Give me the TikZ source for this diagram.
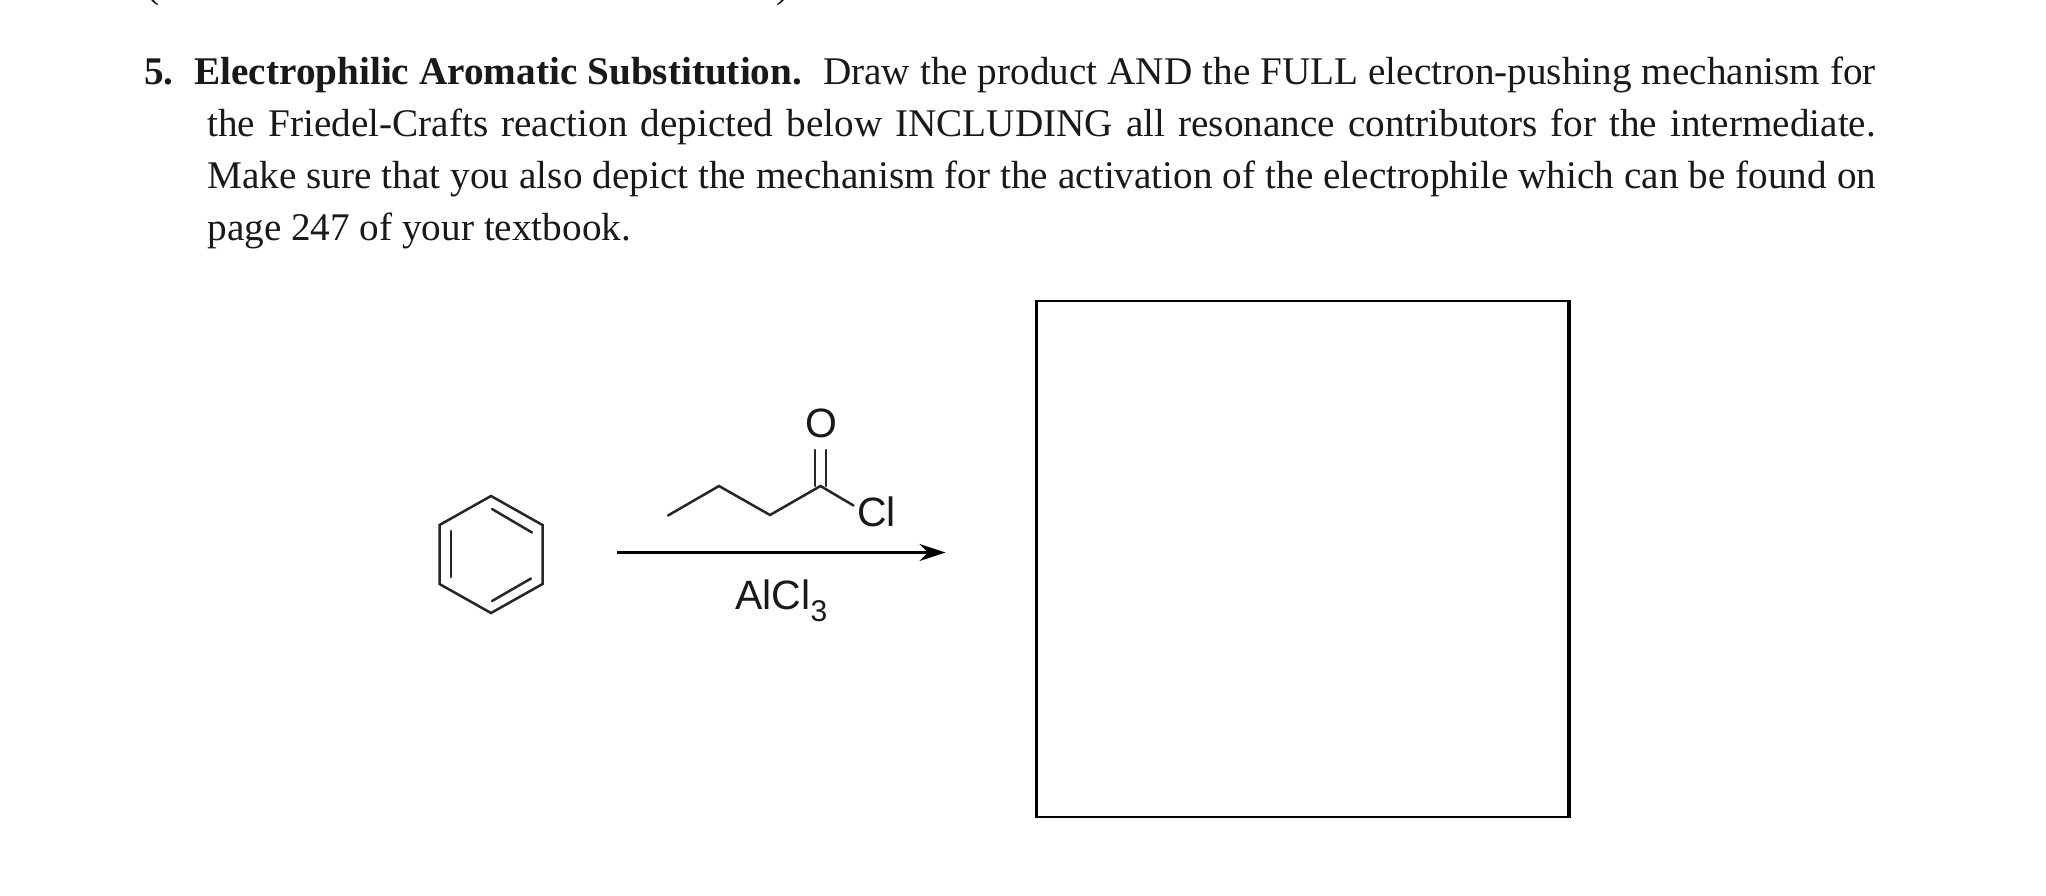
\documentclass[tikz,border=0pt]{standalone}
\usepackage{fontspec}
\setmainfont{Liberation Serif}
\newfontfamily\chemfont{Liberation Sans}
\usetikzlibrary{arrows.meta}
\hbadness=10000 \hfuzz=50pt
\tikzset{
  body/.style={inner sep=0pt,outer sep=0pt,anchor=base west,font=\fontsize{39.2}{47}\selectfont,text=black!90},
  atom/.style={inner sep=0pt,outer sep=0pt,font=\chemfont\fontsize{41}{48}\selectfont,text=black!90},
  bond/.style={line width=2.5pt,black!85,line cap=round,line join=miter},
  rxn/.style={line width=2.4pt,black,-{Stealth[length=26pt,width=17pt]}},
  answer/.style={line width=2.4pt,black}
}
\newcommand{\jline}[1]{\hbox to 1668.5pt{#1}}
\begin{document}
\begin{tikzpicture}[x=1pt,y=-1pt]
\useasboundingbox (0,0) rectangle (2046,895);
\fill[white] (0,0) rectangle (2046,895);
% cut-off line at the top
\node[body] (parL) at (146,-3) {(};
\node[body] (parR) at (776,-3) {)};
% text
\node[body] (num) at (144,84) {\textbf{5.}};
\node[body] (l1) at (194.5,84) {\hbox to 1681.5pt{\textbf{Electrophilic Aromatic Substitution.}\hspace{21pt}Draw the product AND the FULL electron-pushing mechanism for}};
\node[body] (l2) at (207.5,136) {\jline{the Friedel-Crafts reaction depicted below INCLUDING all resonance contributors for the intermediate.}};
\node[body] (l3) at (207.5,188) {\jline{Make sure that you also depict the mechanism for the activation of the electrophile which can be found on}};
\node[body] (l4) at (207.5,240) {page 247 of your textbook.};
% benzene
\coordinate (b1) at (491,496);
\coordinate (b2) at (542.5,525);
\coordinate (b3) at (542.5,584);
\coordinate (b4) at (491,613);
\coordinate (b5) at (439.5,584);
\coordinate (b6) at (439.5,525);
\draw[bond] (b1) -- (b2) -- (b3) -- (b4) -- (b5) -- (b6) -- cycle;
\coordinate (d1a) at (492,509);   \coordinate (d1b) at (532,532.5);
\coordinate (d2a) at (531,578.5); \coordinate (d2b) at (492,601);
\coordinate (d3a) at (451,577);   \coordinate (d3b) at (451,531);
\draw[bond] (d1a) -- (d1b);
\draw[bond] (d2a) -- (d2b);
\draw[bond] (d3a) -- (d3b);
% acyl chloride
\node[atom] (O) at (821.5,423) {O};
\node[atom] (Cl) at (876.5,511.5) {Cl};
\coordinate (c1) at (668,515.5);
\coordinate (c2) at (719,486);
\coordinate (c3) at (770,515);
\coordinate (c4) at (820.5,486);
\coordinate (clend) at (853.5,505.5);
\draw[bond] (c1) -- (c2) -- (c3) -- (c4) -- (clend);
\coordinate (o1a) at (815,486); \coordinate (o1b) at (815,450);
\coordinate (o2a) at (826,486); \coordinate (o2b) at (826,450);
\draw[bond] (o1a) -- (o1b);
\draw[bond] (o2a) -- (o2b);
% arrow
\coordinate (as) at (617,552.5);
\coordinate (ae) at (945.5,552.5);
\draw[rxn] (as) -- (ae);
\node[atom,anchor=base west] (cat) at (735.5,609) {AlCl\raisebox{-12pt}{\fontsize{30}{34}\selectfont 3}};
% answer box
\coordinate (bx1) at (1036.5,301);
\coordinate (bx2) at (1570,817);
\draw[answer] (bx1) rectangle (bx2);
\fill[black] (1567,300) rectangle (1571,818);
\end{tikzpicture}
\end{document}
